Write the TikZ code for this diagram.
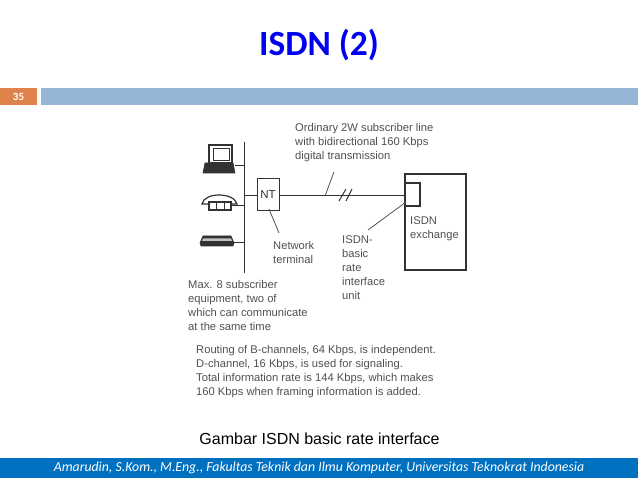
\documentclass[tikz,border=0pt]{standalone}
\usepackage{fontspec}
\setmainfont{Liberation Sans}
\newfontfamily\slidefont{Carlito}
\usepackage{xcolor}
\usetikzlibrary{positioning}
\definecolor{isdnblue}{RGB}{0,0,240}
\definecolor{isdnorange}{RGB}{224,130,76}
\definecolor{isdnbar}{RGB}{149,181,212}
\definecolor{isdnfoot}{RGB}{0,112,192}
\definecolor{isdnink}{RGB}{50,50,50}
\definecolor{isdntext}{RGB}{80,80,80}
\tikzstyle{unitbox} = [rectangle, draw=isdnink, line width=1.2pt, fill=white, inner sep=0pt]
\tikzstyle{wire} = [draw=isdnink, line width=1pt]
\tikzstyle{leader} = [draw=isdntext, line width=0.8pt]
\tikzstyle{note} = [anchor=north west, inner sep=0pt, align=left, text=isdntext, font=\fontsize{11.2}{14}\selectfont]
\tikzstyle{icon} = [fill=isdnink, draw=isdnink, line width=0.6pt]
\tikzstyle{iconline} = [draw=isdnink, line width=1.2pt, fill=white]

\begin{document}
\begin{tikzpicture}[x=1pt,y=-1pt]
\useasboundingbox (0,0) rectangle (638,478);
% Slide header and footer
\node (title) at (319,45.5) [font=\slidefont\bfseries\fontsize{35.4}{38}\selectfont, text=isdnblue, inner sep=0pt] {ISDN (2)};
\node (num) at (18.5,96.5) [fill=isdnorange, minimum width=37pt, minimum height=17pt, inner sep=0pt, text=white, font=\slidefont\bfseries\fontsize{11}{12}\selectfont] {35};
\node (bar) at (339.5,96.5) [fill=isdnbar, minimum width=597pt, minimum height=17pt, inner sep=0pt] {};
\node (foot) at (319,468) [fill=isdnfoot, minimum width=638pt, minimum height=20pt, inner sep=0pt, text=white, font=\slidefont\itshape\fontsize{13.8}{16}\selectfont] {Amarudin, S.Kom., M.Eng., Fakultas Teknik dan Ilmu Komputer, Universitas Teknokrat Indonesia};

% Boxes
\node (nt) at (268,195) [unitbox, line width=1pt, minimum width=22pt, minimum height=32pt, text=isdnink, font=\fontsize{11.5}{12}\selectfont] {NT};
\node (exchange) at (435.5,222) [unitbox, minimum width=61pt, minimum height=96pt] {};
\node (basic) at (412.5,194.5) [unitbox, line width=1.5pt, minimum width=15pt, minimum height=23pt] {};

% Bus and line
\coordinate (bustop) at (244,142);
\coordinate (busbot) at (244,273);
\coordinate (busnt) at (244,196);
\coordinate (pcstub) at (235,166);
\coordinate (pcbus) at (244,166);
\coordinate (telstub) at (230,206);
\coordinate (telbus) at (244,206);
\coordinate (modstub) at (233,243);
\coordinate (modbus) at (244,243);
\draw[wire] (bustop) -- (busbot);
\draw[wire] (pcstub) -- (pcbus);
\draw[wire] (telstub) -- (telbus);
\draw[wire] (modstub) -- (modbus);
\draw[wire] (busnt) -- (nt.west |- busnt);
\draw[wire] (nt.east |- busnt) -- (exchange.west |- busnt);
\draw[wire] (339,201) -- (346,189);
\draw[wire] (346,201) -- (352,189);

% Terminal icons
\draw[iconline] (209,145) rectangle (232,163);
\draw[draw=isdnink, line width=0.7pt, fill=white] (213,148) rectangle (229,160);
\filldraw[icon] (203,173) -- (205,163) -- (233,163) -- (235,173) -- cycle;
\draw[iconline] (202,204) .. controls (204,192) and (234,192) .. (237,204) -- (202,204) -- cycle;
\draw[iconline] (209,202) rectangle (231,210);
\draw[draw=isdnink, line width=1pt] (216,202) -- (216,210) (224,202) -- (224,210);
\filldraw[icon] (200,243) -- (203,236) -- (231,236) -- (234,243) -- (233,246) -- (201,246) -- cycle;
\fill[white!70!isdnink] (203,238.5) -- (231,238.5) -- (232,241) -- (202,241) -- cycle;

% Labels
\node (linelbl) at (295,123.5) [note] {Ordinary 2W subscriber line\\with bidirectional 160 Kbps\\digital transmission};
\node (ntlbl) at (273,241) [note] {Network\\terminal};
\node (unitlbl) at (342,235) [note] {ISDN-\\basic\\rate\\interface\\unit};
\node (exlbl) at (410,216) [note] {ISDN\\exchange};
\node (maxlbl) at (188,280) [note] {Max. 8 subscriber\\equipment, two of\\which can communicate\\at the same time};
\node (routlbl) at (196,345.5) [note] {Routing of B-channels, 64 Kbps, is independent.\\D-channel, 16 Kbps, is used for signaling.\\Total information rate is 144 Kbps, which makes\\160 Kbps when framing information is added.};
\node (caption) at (319.5,439) [inner sep=0pt, font=\fontsize{16}{18}\selectfont, text=black] {Gambar ISDN basic rate interface};

% Leader lines
\coordinate (lineend) at (334,172);
\coordinate (linefoot) at (325,196);
\coordinate (ntfoot) at (269,209);
\coordinate (ntend) at (279,233);
\coordinate (unitend) at (368,230);
\coordinate (unitfoot) at (406,202);
\draw[leader] (linefoot) -- (lineend);
\draw[leader] (ntfoot) -- (ntend);
\draw[leader] (unitfoot) -- (unitend);
\end{tikzpicture}
\end{document}
